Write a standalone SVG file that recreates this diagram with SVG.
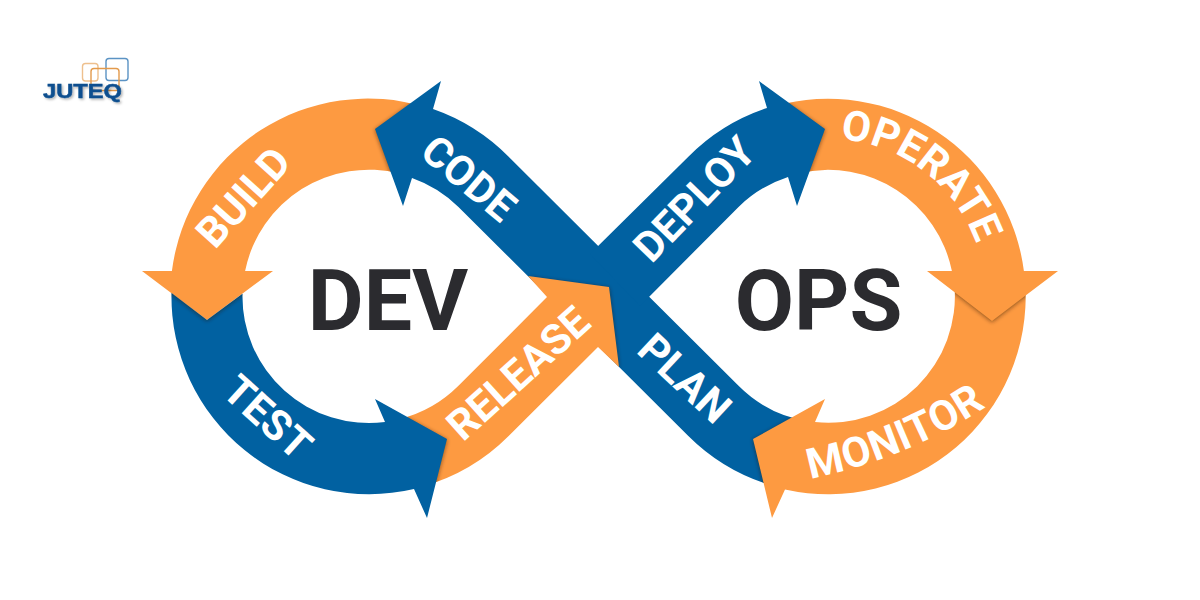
<svg xmlns="http://www.w3.org/2000/svg" width="1200" height="600" viewBox="0 0 1200 600">
<style>
.b{fill:#0161a1}
.o{fill:#fd9a41}
.sh{fill:#2a1805;filter:url(#sh)}
.l{font-family:Roboto,"Liberation Sans",sans-serif;font-weight:700;font-size:42px;fill:#fff;text-anchor:middle}
.t{font-family:Roboto,"Liberation Sans",sans-serif;font-weight:700;font-size:86px;fill:#2b2b2f;text-anchor:middle}
.r{fill:none;stroke-width:1.4}
</style>
<defs>
<filter id="sh" x="-10%" y="-10%" width="120%" height="120%"><feOffset dx="0" dy="1"/><feGaussianBlur stdDeviation="2.2"/><feComponentTransfer><feFuncA type="linear" slope="0.55"/></feComponentTransfer></filter>
<filter id="lg" x="-10%" y="-20%" width="125%" height="150%"><feDropShadow dx="1.5" dy="1.5" stdDeviation="1" flood-color="#000" flood-opacity="0.3"/></filter>
<path id="opArc" d="M721.9,180.2 A157,157 0 0 1 967.3,368.5"/>
<path id="moArc" d="M771.6,484.7 A500,500 0 0 0 1018.6,383.7"/>
<path id="pBuild" d="M142,271 L171.9,271 A197.5,197.5 0 0 1 425,107 L400,173.5 A126.5,126.5 0 0 0 245.1,271 L273,271 L207,320 Z"/>
<path id="pBand" d="M375,129 L441,81 L433,109 A197.5,197.5 0 0 1 508.65,156.75 L738.55,385.85 A126.5,126.5 0 0 0 810,421.7 L770,485 A197.5,197.5 0 0 1 688.35,436.05 L458.45,206.95 A126.5,126.5 0 0 0 412,178 L403,206 Z"/>
<path id="pMonitor" d="M1025.3,285 A197.5,197.5 0 0 1 785,489.5 L772,518 L753,439 L825,399 L815,422 A126.5,126.5 0 0 0 954.4,285 Z"/>
<path id="pOperate" d="M1058,271 L992,321 L927,271 L951.9,271 A126.5,126.5 0 0 0 800,173 L775,106 A197.5,197.5 0 0 1 1023.9,271 Z"/>
<path id="pDeploy" d="M590,254 L688.35,156.75 A197.5,197.5 0 0 1 767,108 L759,81 L825,129 L797,206 L788,177 A126.5,126.5 0 0 0 738.55,206.95 L640,306 Z"/>
<path id="pRelease" d="M609,287 L528,276 L547,297 L458.45,385.85 A126.5,126.5 0 0 1 400,419 L422,486.7 A197.5,197.5 0 0 0 508.65,436.05 L598,347 L619,367 Z"/>
<path id="pTest" d="M171.5,293 L207,320 L242.5,293.7 A126.5,126.5 0 0 0 385,422 L375,399 L447,439 L427,518 L414,489 A197.5,197.5 0 0 1 171.5,293 Z"/>
<clipPath id="cBuild"><use href="#pBuild"/></clipPath>
<clipPath id="cBand"><use href="#pBand"/></clipPath>
<clipPath id="cBlue"><use href="#pBand"/><use href="#pDeploy"/></clipPath>
<clipPath id="cMonitor"><use href="#pMonitor"/></clipPath>
<clipPath id="cOperate"><use href="#pOperate"/></clipPath>
<clipPath id="cRelease"><use href="#pRelease"/></clipPath>
<clipPath id="cTest"><use href="#pTest"/></clipPath>
</defs>
<rect width="1200" height="600" fill="#fff"/>

<g id="logo">
<rect class="r" x="106" y="58.5" width="22" height="22" rx="3" stroke="#5b93c4"/>
<rect class="r" x="82.5" y="63.5" width="15.5" height="17.5" rx="3" stroke="#eec08e"/>
<rect class="r" x="91" y="68.5" width="28" height="22" rx="3" stroke="#e39a4c"/>
<text x="43" y="98" font-family="Liberation Sans,sans-serif" font-weight="700" font-size="19.5" fill="#0c4f8f" stroke="#0c4f8f" stroke-width="0.5" textLength="79" lengthAdjust="spacingAndGlyphs" filter="url(#lg)">JUTEQ</text>
</g>

<g id="build">
<use href="#pBuild" class="o"/>
<text class="l" transform="translate(243,197) rotate(-48)" y="14.9">BUILD</text>
</g>

<g id="code-plan">
<g clip-path="url(#cBuild)"><use href="#pBand" class="sh"/></g>
<use href="#pBand" class="b"/>
<text class="l" transform="translate(469,178) rotate(40)" y="14.9">CODE</text>
<text class="l" transform="translate(685,378) rotate(43)" y="14.9">PLAN</text>
</g>

<g id="monitor">
<g clip-path="url(#cBand)"><use href="#pMonitor" class="sh"/></g>
<use href="#pMonitor" class="o"/>
<text class="l" letter-spacing="0.5"><textPath href="#moArc" startOffset="50%">MONITOR</textPath></text>
</g>

<g id="operate">
<g clip-path="url(#cMonitor)"><use href="#pOperate" class="sh"/></g>
<use href="#pOperate" class="o"/>
<text class="l"><textPath href="#opArc" startOffset="50%">OPERATE</textPath></text>
</g>

<g id="deploy">
<g clip-path="url(#cOperate)"><use href="#pDeploy" class="sh"/></g>
<use href="#pDeploy" class="b"/>
<text class="l" transform="translate(694,199) rotate(-46)" y="14.9">DEPLOY</text>
</g>

<g id="release">
<g clip-path="url(#cBlue)"><use href="#pRelease" class="sh"/></g>
<use href="#pRelease" class="o"/>
<text class="l" transform="translate(518,373) rotate(-42)" y="14.9">RELEASE</text>
</g>

<g id="test">
<g clip-path="url(#cRelease)"><use href="#pTest" class="sh"/></g>
<use href="#pTest" class="b"/>
<g clip-path="url(#cTest)"><use href="#pBuild" class="sh"/></g>
<text class="l" transform="translate(268,417) rotate(42)" y="14.9">TEST</text>
</g>

<g id="labels">
<text class="t" x="388" y="330">DEV</text>
<text class="t" x="818.5" y="330">OPS</text>
</g>
</svg>
